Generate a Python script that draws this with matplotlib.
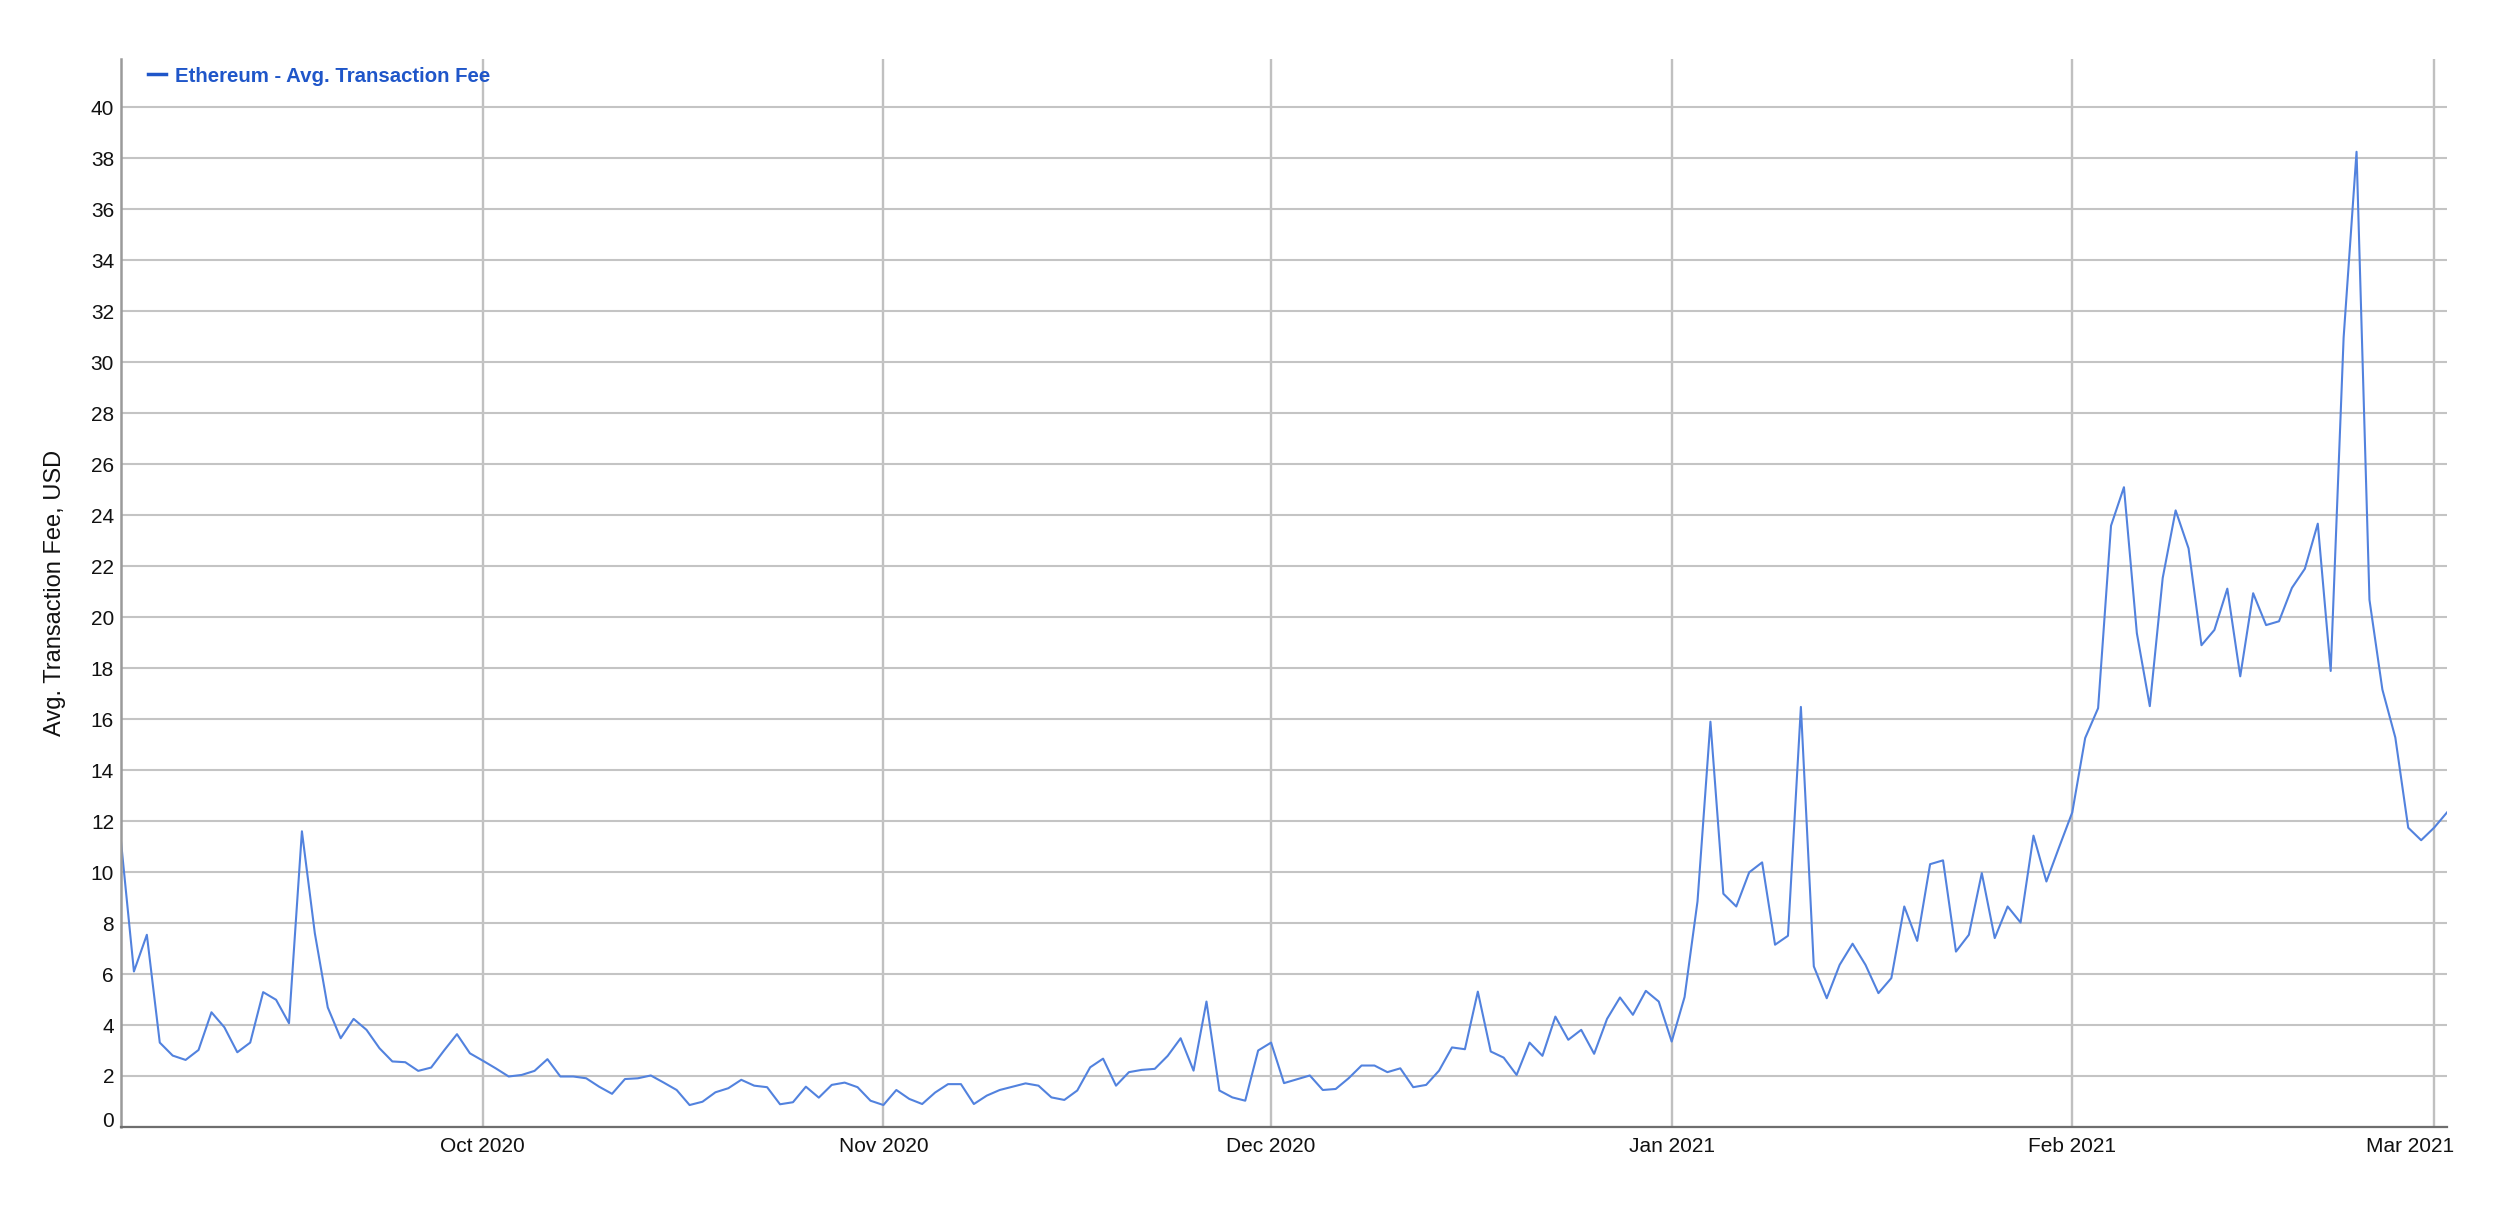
import pandas as pd
import matplotlib
matplotlib.use("Agg")
import matplotlib.pyplot as plt
import matplotlib.transforms as mtransforms

plt.rcParams["font.family"] = ["Liberation Sans", "DejaVu Sans"]

# daily average Ethereum transaction fee (USD), 3 Sep 2020 .. 2 Mar 2021
start_date = "2020-09-03"
fee_usd = [
    11.2, 6.1, 7.54, 3.31, 2.8, 2.63, 3.02, 4.5, 3.91, 2.93,
    3.31, 5.29, 4.99, 4.07, 11.6, 7.6, 4.69, 3.48, 4.24, 3.81,
    3.09, 2.57, 2.54, 2.2, 2.33, 3.0, 3.64, 2.89, 2.6, 2.3,
    1.98, 2.04, 2.2, 2.66, 1.98, 1.98, 1.91, 1.58, 1.3, 1.88,
    1.91, 2.02, 1.74, 1.45, 0.86, 0.99, 1.36, 1.52, 1.85, 1.62,
    1.56, 0.89, 0.97, 1.58, 1.15, 1.65, 1.74, 1.56, 1.03, 0.86,
    1.45, 1.1, 0.9, 1.35, 1.68, 1.68, 0.9, 1.23, 1.45, 1.58,
    1.71, 1.62, 1.16, 1.06, 1.43, 2.34, 2.68, 1.62, 2.15, 2.24,
    2.28, 2.79, 3.48, 2.21, 4.92, 1.43, 1.16, 1.03, 3.0, 3.31,
    1.72, 1.87, 2.02, 1.45, 1.49, 1.91, 2.41, 2.41, 2.15, 2.3,
    1.56, 1.65, 2.21, 3.12, 3.05, 5.31, 2.96, 2.72, 2.04, 3.31,
    2.79, 4.33, 3.42, 3.81, 2.87, 4.24, 5.08, 4.4, 5.34, 4.92,
    3.35, 5.1, 8.85, 15.9, 9.15, 8.65, 9.99, 10.38, 7.15, 7.5,
    16.48, 6.3, 5.05, 6.36, 7.19, 6.36, 5.25, 5.84, 8.65, 7.3,
    10.31, 10.46, 6.88, 7.54, 9.96, 7.41, 8.65, 8.02, 11.43, 9.63,
    11.0, 12.34, 15.26, 16.43, 23.59, 25.1, 19.37, 16.51, 21.54, 24.19,
    22.7, 18.9, 19.5, 21.12, 17.68, 20.94, 19.69, 19.84, 21.15, 21.9,
    23.67, 17.89, 30.97, 38.26, 20.68, 17.16, 15.28, 11.74, 11.25, 11.74,
    12.34,
]
month_ticks = ["2020-10-01", "2020-11-01", "2020-12-01", "2021-01-01", "2021-02-01", "2021-03-01"]
month_labels = ["Oct 2020", "Nov 2020", "Dec 2020", "Jan 2021", "Feb 2021", "Mar 2021"]
y_ticks = list(range(0, 41, 2))

dates = pd.date_range(start_date, periods=len(fee_usd), freq="D")

fig = plt.figure(figsize=(25, 12.14), dpi=100)
ax = fig.add_axes([0.0484, 0.0717, 0.9304, 0.8797])

ax.plot(dates, fee_usd, color="#5282de", lw=1.5, label="Ethereum - Avg. Transaction Fee")

ax.set_xlim(dates[0], dates[-1])
ax.set_ylim(0, 41.9)

ax.set_yticks(y_ticks)
ax.set_yticklabels([str(v) for v in y_ticks])
ax.set_xticks(pd.to_datetime(month_ticks))
ax.set_xticklabels(month_labels)

ax.grid(True, axis="y", color="#c4c4c4", lw=1.5)
ax.grid(True, axis="x", color="#c0c0c0", lw=1.7)
ax.set_axisbelow(True)
ax.tick_params(axis="both", length=0, labelsize=15, labelcolor="#111111")
ax.tick_params(axis="y", pad=5)
ax.tick_params(axis="x", pad=7)

for s in ["top", "right"]:
    ax.spines[s].set_visible(False)
ax.spines["left"].set_color("#9a9a9a")
ax.spines["left"].set_linewidth(1.8)
ax.spines["bottom"].set_color("#6e6e6e")
ax.spines["bottom"].set_linewidth(1.6)

# nudge the "0" label up and the last month label inside the plot
lbl0 = ax.get_yticklabels()[0]
lbl0.set_transform(lbl0.get_transform() + mtransforms.ScaledTranslation(0, 0.07, fig.dpi_scale_trans))
lbl_last = ax.get_xticklabels()[-1]
lbl_last.set_transform(lbl_last.get_transform() + mtransforms.ScaledTranslation(-0.24, 0, fig.dpi_scale_trans))

ax.set_ylabel("Avg. Transaction Fee, USD", fontsize=17, color="#111111", labelpad=18)

leg = ax.legend(loc="center left", bbox_to_anchor=(0.0116, 0.984), frameon=False,
                handlelength=0.9, handletextpad=0.4, borderpad=0, borderaxespad=0,
                prop={"weight": "bold", "size": 14.7})
for h in leg.get_lines():
    h.set_color("#1f56c9")
    h.set_linewidth(2.5)
for t in leg.get_texts():
    t.set_color("#1f56c9")

fig.savefig("out.png", dpi=100, facecolor="white")
